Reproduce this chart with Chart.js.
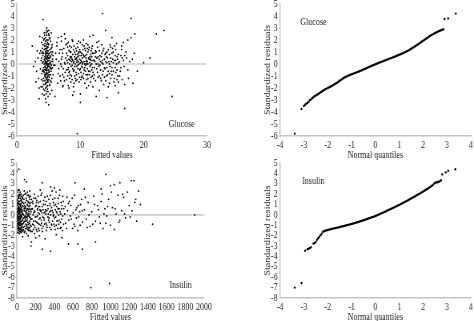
<!DOCTYPE html>
<html lang="en">
<head>
<meta charset="UTF-8">
<title>Residual diagnostics</title>
<script src="https://cdn.jsdelivr.net/npm/chart.js"></script>
<style>
  html, body { margin: 0; padding: 0; background: #fff; overflow: hidden; }
  .panel { position: absolute; transform-origin: 0 0; }
</style>
</head>
<body>
<canvas id="gluFit" class="panel"></canvas>
<canvas id="gluQQ" class="panel"></canvas>
<canvas id="insFit" class="panel"></canvas>
<canvas id="insQQ" class="panel"></canvas>
<script>
// ---- data ----

// glucose: [fitted value, standardized residual]
const glucoseResid = [
  [4.6,0.2],[4.8,-0.3],[4.5,0.8],[4.9,1.1],[4.4,-0.9],[5.0,0.5],[4.7,-1.2],[4.3,0.0],[5.1,-0.6],[4.6,1.5],
  [4.8,0.9],[4.5,-0.5],[4.9,-1.0],[4.4,0.6],[5.2,0.1],[4.7,0.4],[4.6,-0.1],[4.8,1.8],[4.5,2.2],[4.9,-1.5],
  [4.3,1.2],[5.0,-0.2],[4.7,-0.7],[4.4,-1.4],[5.1,0.9],[4.6,2.6],[4.8,-1.8],[4.5,1.0],[4.9,0.3],[4.2,-0.3],
  [5.3,-0.9],[4.7,1.3],[4.6,-1.6],[4.8,0.0],[4.5,-1.1],[5.0,1.6],[4.4,0.3],[4.9,2.0],[4.7,-0.4],[5.2,1.2],
  [4.3,-0.7],[4.6,0.7],[4.8,-0.8],[4.5,0.5],[5.0,-1.3],[4.7,2.4],[4.4,1.7],[4.9,-0.1],[5.1,0.3],[4.6,-0.9],
  [4.2,0.9],[4.8,1.4],[4.5,-2.0],[5.3,0.6],[4.7,0.1],[4.4,-0.2],[4.9,0.7],[5.0,-0.7],[4.6,1.1],[4.8,-1.1],
  [4.3,0.4],[5.2,-0.4],[4.5,1.9],[4.7,-1.9],[4.9,1.4],[4.4,-1.0],[5.1,-1.1],[4.6,0.0],[4.8,0.6],[4.5,-0.3],
  [5.4,0.2],[4.1,-0.5],[4.7,2.8],[4.9,-2.3],[4.3,2.1],[5.0,2.5],[4.6,-2.5],[4.8,2.7],[4.2,-1.7],[5.5,-1.2],
  [5.6,1.0],[5.4,-0.6],[5.5,0.8],[4.0,1.3],[3.9,-0.8],[4.1,0.7],[4.0,-1.9],[5.6,-0.3],[5.3,1.9],[5.2,-1.7],
  [4.4,-2.2],[4.9,-2.7],[4.5,-2.9],[5.0,-3.4],[4.6,-3.2],[3.5,-2.9],[4.1,3.7],[4.3,2.6],[4.8,-2.1],[5.1,2.2],
  [4.0,0.1],[3.8,0.3],[3.7,-0.4],[3.6,0.9],[3.9,1.8],[3.4,-1.2],[3.3,0.5],[3.1,-0.6],[2.9,0.2],[2.6,-0.2],
  [2.4,1.5],[3.0,-1.5],[3.2,1.1],[3.5,-2.0],[3.6,2.3],[4.2,2.0],[5.4,2.6],[5.5,-2.2],[4.0,-2.5],[4.65,0.45],
  [4.75,-0.55],[4.55,1.25],[4.85,-1.35],[4.45,0.15],[4.95,0.85],[4.65,-0.85],[4.75,1.65],[4.55,-1.55],[4.85,0.25],[4.35,-0.45],
  [3.9,0.5],[4.0,-0.6],[4.1,1.6],[4.2,-1.2],[5.3,0.0],[5.4,1.3],[5.5,-0.4],[5.6,0.4],[5.7,-0.9],[5.2,2.1],
  [4.1,-1.4],[4.0,2.2],[3.95,0.9],[4.15,0.2],[4.25,-0.6],[4.35,1.5],[4.45,-1.7],[4.55,0.9],[4.65,-1.3],[4.75,0.6],
  [4.85,-0.2],[4.95,1.7],[5.05,-0.9],[5.15,0.5],[5.25,-1.4],[5.35,1.0],[5.45,-0.1],[5.55,1.6],[5.65,0.2],[3.85,-1.3],
  [4.05,1.0],[4.2,-2.1],[4.35,2.4],[4.5,0.1],[4.6,-0.5],[4.7,0.9],[4.8,-1.5],[4.9,0.5],[5.0,0.0],[5.1,-1.8],
  [5.2,0.7],[5.3,-0.3],[5.4,-1.5],[5.5,1.4],[4.45,1.3],[4.55,-0.8],[4.65,2.0],[4.75,-2.3],[4.85,1.1],[4.95,-0.5],
  [5.05,2.4],[5.15,-0.2],[3.8,-1.9],[5.7,0.7],[3.75,1.1],[5.8,-0.1],[4.3,-2.6],[5.2,-2.5],[4.7,3.0],[5.0,2.8],
  [6.2,0.4],[6.5,-0.8],[6.8,1.2],[7.0,-0.2],[7.2,0.9],[7.4,-1.1],[7.5,0.1],[7.7,1.6],[7.8,-0.5],[8.0,0.7],
  [8.1,-0.3],[8.2,1.1],[8.3,0.0],[8.4,-0.9],[8.5,0.5],[8.6,1.4],[8.7,-0.1],[8.8,0.8],[8.9,-0.6],[9.0,0.2],
  [9.1,1.0],[9.2,-1.2],[9.3,0.4],[9.4,-0.2],[9.5,1.7],[9.6,0.6],[9.7,-0.8],[9.8,0.0],[9.9,1.2],[10.0,-0.4],
  [10.1,0.3],[10.2,0.9],[10.3,-1.0],[10.4,0.1],[10.5,0.7],[10.6,-0.5],[10.7,1.3],[10.8,-0.1],[10.9,0.5],[11.0,-1.3],
  [11.1,0.2],[11.2,1.0],[11.3,-0.6],[11.4,0.4],[11.5,-0.2],[11.6,0.8],[11.7,-1.1],[11.8,0.0],[11.9,1.5],[12.0,-0.7],
  [12.2,0.3],[12.4,1.1],[12.6,-0.4],[12.8,0.6],[13.0,-1.0],[13.2,0.2],[13.4,0.9],[13.6,-0.6],[13.8,0.4],[14.0,-1.4],
  [14.2,0.1],[14.4,1.2],[14.6,-0.8],[14.8,0.5],[15.0,-0.3],[15.2,1.0],[15.4,-1.2],[15.6,0.3],[15.8,-0.5],[16.0,0.8],
  [6.0,-0.1],[6.3,1.5],[6.6,0.2],[6.9,-1.4],[7.1,0.6],[7.3,-0.4],[7.6,2.1],[7.9,0.3],[8.0,-1.0],[8.1,1.8],
  [8.2,0.4],[8.3,-0.6],[8.4,1.0],[8.5,-0.2],[8.6,0.2],[8.7,-1.3],[8.8,1.9],[8.9,0.1],[9.0,-0.5],[9.1,0.6],
  [9.2,0.0],[9.3,1.3],[9.4,-0.9],[9.5,0.3],[9.6,-0.1],[9.7,0.9],[9.8,-1.5],[9.9,0.4],[10.0,1.0],[10.1,-0.7],
  [10.2,0.2],[10.3,1.6],[10.4,-0.3],[10.5,-1.2],[10.6,0.6],[10.7,0.0],[10.8,1.1],[10.9,-0.9],[11.0,0.3],[11.1,-0.4],
  [11.2,1.6],[11.3,0.5],[11.4,-0.9],[11.5,0.1],[11.6,-1.5],[11.7,1.1],[11.8,0.6],[11.9,-0.3],[12.1,-1.2],[12.3,0.9],
  [12.5,0.0],[12.7,1.4],[12.9,-0.2],[13.1,0.7],[13.3,-1.4],[13.5,0.3],[13.7,1.3],[13.9,-0.4],[14.1,0.6],[14.3,-0.9],
  [14.5,0.2],[14.7,1.6],[14.9,-0.6],[15.1,0.4],[15.3,-1.5],[15.5,0.7],[15.7,0.0],[15.9,-1.0],[16.2,0.2],[16.5,1.2],
  [6.4,-1.6],[6.7,0.9],[7.0,1.9],[7.3,-1.8],[7.6,-0.7],[7.8,0.9],[8.0,0.1],[8.1,-1.8],[8.3,1.5],[8.4,0.3],
  [8.5,-1.5],[8.6,0.6],[8.7,2.0],[8.8,-0.4],[8.9,1.2],[9.0,-1.6],[9.1,-0.2],[9.2,0.8],[9.3,-0.7],[9.4,0.5],
  [9.5,-1.3],[9.6,1.4],[9.7,0.2],[9.8,0.7],[9.9,-0.5],[10.0,1.8],[10.1,-1.3],[10.2,-0.2],[10.3,0.5],[10.4,1.2],
  [10.5,-0.8],[10.6,0.2],[10.7,-1.6],[10.8,0.7],[10.9,1.7],[11.0,0.8],[11.1,-0.9],[11.2,0.0],[11.3,1.2],[11.5,-0.6],
  [11.6,0.4],[11.8,-0.5],[11.9,0.9],[12.0,0.3],[12.2,-0.9],[12.4,0.6],[12.6,1.8],[12.8,-1.1],[13.0,0.4],[13.2,-0.5],
  [13.4,1.6],[13.6,0.0],[13.8,-1.1],[14.0,0.9],[14.2,-0.3],[14.4,-1.9],[14.6,0.8],[14.8,1.4],[15.0,-0.9],[15.2,0.1],
  [15.4,1.5],[15.6,-0.7],[15.8,0.6],[16.0,-1.5],[16.3,-0.6],[16.6,0.5],[16.9,-0.2],[17.2,1.0],[17.5,-0.5],[17.8,0.2],
  [7.0,0.4],[7.2,-0.9],[7.4,1.3],[7.6,0.0],[7.8,-1.3],[8.0,1.4],[8.2,-0.7],[8.4,0.6],[8.6,-1.0],[8.8,0.3],
  [9.0,1.5],[9.2,0.4],[9.4,1.1],[9.6,-0.4],[9.8,1.0],[10.0,0.1],[10.2,-1.1],[10.4,0.8],[10.6,1.5],[10.8,-0.6],
  [11.0,0.0],[11.2,-1.2],[11.4,1.4],[11.6,-0.1],[11.8,1.3],[12.0,0.9],[12.2,-0.3],[12.4,-1.4],[12.6,0.5],[12.8,0.0],
  [13.0,1.1],[13.2,-1.2],[13.4,0.1],[13.6,1.1],[13.8,-0.3],[14.0,0.2],[14.2,1.0],[14.4,-0.6],[14.6,0.0],[14.8,-1.2],
  [15.0,0.9],[15.2,-0.6],[15.4,0.3],[15.6,1.2],[15.8,-1.3],[16.0,0.1],[16.2,-1.0],[16.4,0.7],[16.6,-1.3],[16.8,0.3],
  [7.1,1.2],[7.5,-1.4],[7.9,1.7],[8.3,-1.2],[8.7,0.4],[9.1,-1.0],[9.5,0.8],[9.9,-1.1],[10.3,0.0],[10.7,-0.3],
  [11.1,1.3],[11.5,0.6],[11.9,-1.0],[12.3,0.2],[12.7,-0.7],[13.1,-0.1],[13.5,-0.9],[13.9,0.8],[14.3,0.5],[14.7,-0.2],
  [15.1,1.3],[15.5,-0.3],[15.9,0.4],[6.1,0.9],[6.6,-0.4],[6.8,-1.0],[7.7,0.5],[8.5,1.0],[9.3,-1.4],[10.1,0.7],
  [10.9,0.2],[11.7,0.3],[12.5,1.0],[13.3,0.6],[14.1,-1.0],[14.9,0.2],[15.7,1.7],[16.4,-0.3],[17.0,0.7],[17.6,-1.2],
  [18.2,0.4],[8.9,-1.9],[9.7,1.9],[10.5,2.0],[11.3,-1.8],[12.9,1.9],[13.7,-1.7],[6.9,0.0],[8.05,-0.45],[9.45,0.15],
  [6.5,2.2],[7.5,2.5],[8.2,-2.0],[9.0,-2.3],[9.5,-5.8],[10.0,-3.2],[10.0,-2.5],[11.0,-2.0],[11.5,2.3],[12.0,2.4],
  [12.5,-2.7],[13.5,4.2],[14.0,2.8],[14.2,-2.8],[15.0,2.2],[15.5,-1.8],[16.0,-2.4],[16.5,1.5],[17.0,-3.7],[17.0,-1.7],
  [17.5,2.0],[18.0,3.8],[18.0,2.2],[18.3,-1.6],[18.6,2.5],[18.5,0.9],[19.0,-0.6],[20.0,0.1],[21.0,0.5],[22.0,2.5],
  [23.2,2.8],[24.5,-2.7],[6.0,-2.7],[7.2,-1.9],[8.8,-2.6],[12.0,-1.9],[13.0,-2.2],[14.6,-1.6],[16.8,1.8],[17.3,0.5],
  [6.3,1.8],[7.0,2.3]
];

// insulin: [fitted value, standardized residual]
const insulinResid = [
  [5,0.2],[10,-0.5],[15,1.0],[20,-1.2],[25,0.6],[30,-0.1],[35,1.6],[40,-0.8],[45,0.3],[50,-1.5],
  [8,2.2],[12,-1.7],[18,0.8],[22,-0.3],[28,1.3],[32,-1.0],[38,0.0],[42,2.0],[48,-0.6],[55,0.9],
  [3,-0.9],[7,1.4],[14,0.4],[19,-1.4],[24,2.4],[29,-0.7],[33,0.5],[37,-1.6],[43,1.1],[52,-0.2],
  [6,-1.3],[11,0.7],[16,-0.2],[21,1.8],[26,-1.0],[31,0.2],[36,-0.4],[41,1.4],[46,-1.2],[58,0.4],
  [4,1.1],[9,-0.1],[13,-1.0],[17,1.6],[23,0.1],[27,-1.6],[34,0.9],[39,-0.3],[44,-1.4],[60,1.2],
  [2,-0.4],[6,0.5],[11,2.4],[15,-0.7],[20,0.3],[25,-1.8],[30,1.9],[35,-0.6],[40,0.6],[65,-0.8],
  [70,0.0],[75,1.5],[80,-1.1],[85,0.7],[90,-0.4],[95,2.1],[100,-1.3],[105,0.2],[110,1.0],[115,-0.7],
  [120,0.5],[125,-1.5],[130,1.7],[135,-0.2],[140,0.9],[145,-1.0],[150,0.3],[68,1.9],[72,-1.5],[78,0.4],
  [82,-0.2],[88,1.2],[92,-0.9],[98,0.1],[102,1.4],[108,-0.5],[112,2.2],[118,-1.2],[122,0.0],[128,0.8],
  [132,-0.8],[138,1.5],[142,-0.3],[148,-1.6],[62,-0.5],[66,0.8],[74,-0.3],[86,-1.6],[96,0.6],[106,-1.0],
  [116,0.9],[126,-0.1],[136,2.3],[146,0.5],[1,0.9],[3,-1.7],[8,-0.8],[12,1.9],[18,-0.4],[23,-0.9],
  [28,0.4],[33,2.2],[38,-1.3],[47,0.7],[53,-1.1],[57,1.7],[63,-1.4],[77,2.3],[83,-0.6],[93,0.3],
  [103,-1.8],[113,-0.1],[123,1.2],[133,-1.2],[2,0.0],[5,-0.6],[9,1.2],[14,-1.2],[19,0.5],[24,-0.4],
  [29,1.0],[34,-1.3],[39,0.8],[49,1.5],[54,0.1],[59,-0.9],[4,-0.2],[10,0.3],[16,1.3],[22,-0.8],
  [1,1.5],[3,0.3],[5,-1.1],[7,-0.3],[9,0.6],[11,-1.5],[13,1.7],[15,0.1],[17,-0.9],[19,1.1],
  [21,-0.5],[23,0.7],[25,-1.3],[27,2.0],[29,0.2],[31,-1.4],[33,-0.2],[35,0.4],[37,1.0],[39,-1.0],
  [41,0.0],[43,-1.7],[45,1.8],[47,-0.1],[49,-0.9],[51,0.5],[53,1.3],[55,-1.6],[57,0.2],[59,-0.4],
  [61,1.6],[64,0.1],[67,-1.2],[71,1.1],[73,-0.7],[76,0.6],[79,-1.7],[81,0.9],[84,2.0],[87,-0.1],
  [89,-1.3],[91,0.8],[94,-0.6],[97,1.6],[99,-0.2],[101,0.4],[104,-1.1],[107,1.9],[109,-0.3],[111,0.6],
  [114,-1.4],[117,1.3],[119,0.1],[121,-0.9],[124,1.9],[127,0.3],[129,-1.3],[131,0.6],[134,1.1],[137,-0.6],
  [139,0.1],[141,-1.5],[143,1.8],[147,-0.4],[149,1.2],[152,-1.1],[157,0.6],[162,-1.6],[167,1.3],[172,0.0],
  [177,-0.6],[182,1.6],[187,0.4],[192,-1.2],[197,0.8],[202,-0.2],[207,-1.4],[212,1.4],[217,0.5],[222,-0.8],
  [227,0.2],[232,1.2],[237,-1.5],[242,0.8],[247,-0.3],[252,0.4],[257,1.9],[262,-0.8],[267,0.2],[272,-1.6],
  [282,1.0],[292,-0.5],[302,0.3],[312,1.3],[322,-1.2],[332,0.6],[342,-0.3],[352,1.1],[362,0.4],[372,-1.0],
  [382,1.5],[392,0.0],[402,-1.1],[412,1.0],[422,0.3],[432,-0.6],[442,1.6],[452,0.6],[462,-1.3],[472,1.2],
  [160,-0.4],[170,1.1],[180,-1.0],[190,0.3],[200,1.6],[210,-0.7],[220,0.6],[230,-1.3],[240,0.1],[250,1.3],
  [260,-0.5],[270,0.8],[280,-1.1],[290,0.2],[300,1.0],[310,-0.8],[320,0.4],[330,-0.2],[340,1.5],[350,-1.2],
  [360,0.0],[370,0.7],[380,-0.6],[390,1.2],[400,-0.3],[410,0.5],[420,-1.0],[430,0.2],[440,1.1],[450,-0.5],
  [460,0.3],[470,-1.2],[480,0.9],[490,-0.1],[500,0.6],[520,-0.8],[540,0.4],[560,1.3],[580,-0.4],[600,0.2],
  [620,-1.1],[640,0.7],[660,-0.2],[680,1.0],[700,-0.7],
  [165,0.6],[175,-1.4],[185,2.0],[195,-0.2],[205,0.9],[215,-1.6],[225,1.8],[235,-0.4],[245,0.5],[255,-1.0],
  [265,2.1],[275,-0.2],[285,1.4],[295,-0.9],[305,0.5],[315,-1.5],[325,1.8],[335,0.1],[345,-0.7],[355,0.9],
  [365,-1.4],[375,2.3],[385,0.2],[395,-0.9],[405,1.6],[415,-0.2],[425,0.8],[435,-1.3],[445,0.0],[455,1.9],
  [465,-0.7],[475,0.6],[485,-1.5],[495,1.3],[510,0.1],[530,-1.3],[550,1.1],[570,-0.1],[590,1.6],[610,-0.9],
  [630,0.5],[650,-1.5],[670,0.3],[690,1.5],
  [155,1.5],[168,-0.9],[178,0.2],[188,-1.8],[198,-0.6],[208,1.2],[218,-0.1],[228,0.8],[238,-0.9],[248,2.4],
  [258,0.4],[268,-1.3],[278,0.5],[288,-0.3],[298,1.7],[308,0.1],[318,-1.0],[328,0.9],[338,-0.5],[348,0.3],
  [358,1.9],[368,-0.9],[378,0.4],[388,-0.1],[398,0.9],[408,-1.4],[418,2.2],[428,-0.6],[438,0.6],[448,-0.9],
  [458,2.4],[468,0.1],[478,-0.4],[488,1.8],[498,-0.9],[515,0.8],[535,1.7],[555,-0.5],[575,0.9],[595,-1.3],
  [615,1.9],[635,-0.3],[655,0.9],[675,-1.0],[695,0.4],
  [200,-2.2],[150,-3.0],[155,-2.6],[270,-3.3],[300,-2.3],[360,-3.5],[480,-2.2],[550,-2.8],[650,-2.8],[700,-3.3],
  [840,-2.6],[790,-7.0],[990,-6.6],[0,4.2],[20,4.4],[80,3.4],[100,3.2],[270,3.1],[620,3.1],[950,3.9],
  [1100,3.1],[1220,3.3],[1250,3.3],[1900,0.0],[1450,-0.9],[360,2.7],[400,2.6],[720,2.5],[900,2.5],[1000,2.8],
  [1040,2.9],[1180,2.2],[1300,2.3],[1270,1.5],[60,-2.1],[120,-2.0],[240,-2.0],[420,-1.9],
  [720,0.5],[740,-0.4],[760,1.2],[780,-1.1],[800,0.3],[820,1.8],[840,-0.6],[860,0.9],[880,-0.2],[900,1.3],
  [920,-1.3],[940,0.6],[960,-0.1],[980,1.5],[1000,-1.0],[1020,0.7],[1040,-1.4],[1060,0.1],[1080,1.9],[1100,-0.5],
  [1120,0.4],[1140,1.7],[1160,-0.3],[1200,0.9],[1230,0.4],[1280,-0.6],[1320,1.0],[730,1.7],[750,-1.2],[770,0.0],
  [810,-0.9],[830,1.0],[870,0.5],[890,-0.8],[910,2.0],[930,0.1],[950,-0.8],[970,0.8],[1010,2.2],[1050,0.6],
  [1090,-0.7],[1130,2.0],[1150,0.1],[1210,-0.2],[1260,1.2]
];

// normal Q-Q: [normal quantile, standardized residual]
const glucoseQQ = [
  [-3.38,-5.8],[-3.1,-3.75],[-3.0,-3.5],[-2.95,-3.4],[-2.9,-3.3],[-2.85,-3.25],[-2.8,-3.15],[-2.75,-3.0],
  [-2.7,-2.95],[-2.6,-2.75],[-2.5,-2.62],[-2.4,-2.5],[-2.3,-2.36],[-2.2,-2.22],[-2.1,-2.1],[-2.0,-2.0],
  [-1.9,-1.9],[-1.8,-1.79],[-1.7,-1.67],[-1.6,-1.55],[-1.5,-1.4],[-1.4,-1.26],[-1.3,-1.13],[-1.2,-1.03],
  [-1.1,-0.94],[-1.0,-0.86],[-0.9,-0.78],[-0.8,-0.7],[-0.7,-0.62],[-0.6,-0.54],[-0.5,-0.46],[-0.4,-0.37],
  [-0.3,-0.28],[-0.2,-0.19],[-0.1,-0.1],[0,-0.02],[0.1,0.06],[0.2,0.14],[0.3,0.22],[0.4,0.3],
  [0.5,0.38],[0.6,0.45],[0.7,0.53],[0.8,0.61],[0.9,0.69],[1.0,0.77],[1.1,0.85],[1.2,0.94],
  [1.3,1.04],[1.4,1.15],[1.5,1.27],[1.6,1.4],[1.7,1.53],[1.8,1.66],[1.9,1.8],[2.0,1.94],
  [2.1,2.08],[2.2,2.22],[2.3,2.35],[2.4,2.47],[2.5,2.58],[2.6,2.68],[2.7,2.77],[2.8,2.85],
  [2.85,2.9],[2.9,3.75],[3.05,3.8],[3.37,4.2],
  [-2.65,-2.85],[-2.55,-2.68],[-2.45,-2.56],[-2.35,-2.43],[-2.25,-2.29],[-2.15,-2.16],[-2.05,-2.05],[-1.95,-1.95],
  [-1.85,-1.85],[-1.75,-1.73],[-1.65,-1.61],[-1.55,-1.48],[-1.45,-1.33],[-1.35,-1.19],[-1.25,-1.08],[-1.15,-0.98],
  [-1.05,-0.9],[-0.95,-0.82],[-0.85,-0.74],[-0.75,-0.66],[-0.65,-0.58],[-0.55,-0.5],[-0.45,-0.41],[-0.35,-0.32],
  [-0.25,-0.23],[-0.15,-0.14],[-0.05,-0.06],[0.05,0.02],[0.15,0.1],[0.25,0.18],[0.35,0.26],[0.45,0.34],
  [0.55,0.41],[0.65,0.49],[0.75,0.57],[0.85,0.65],[0.95,0.73],[1.05,0.81],[1.15,0.89],[1.25,0.99],
  [1.35,1.09],[1.45,1.21],[1.55,1.33],[1.65,1.46],[1.75,1.6],[1.85,1.73],[1.95,1.87],[2.05,2.01],
  [2.15,2.15],[2.25,2.29],[2.35,2.41],[2.45,2.52],[2.55,2.63],[2.65,2.73],[2.75,2.81]
];
const insulinQQ = [
  [-3.38,-7.0],[-3.1,-6.55],[-2.95,-3.45],[-2.85,-3.3],[-2.8,-3.25],[-2.75,-3.2],[-2.7,-3.1],[-2.6,-2.75],
  [-2.55,-2.72],[-2.5,-2.6],[-2.45,-2.4],[-2.4,-2.25],[-2.35,-2.1],[-2.3,-1.95],[-2.25,-1.8],[-2.2,-1.62],
  [-2.1,-1.52],[-2.0,-1.45],[-1.9,-1.39],[-1.8,-1.33],[-1.7,-1.28],[-1.6,-1.22],[-1.5,-1.17],[-1.4,-1.11],
  [-1.3,-1.05],[-1.2,-0.99],[-1.1,-0.93],[-1.0,-0.87],[-0.9,-0.8],[-0.8,-0.73],[-0.7,-0.66],[-0.6,-0.58],
  [-0.5,-0.51],[-0.4,-0.43],[-0.3,-0.35],[-0.2,-0.27],[-0.1,-0.19],[0,-0.1],[0.1,0.0],[0.2,0.1],
  [0.3,0.2],[0.4,0.31],[0.5,0.42],[0.6,0.53],[0.7,0.64],[0.8,0.75],[0.9,0.86],[1.0,0.97],
  [1.1,1.09],[1.2,1.21],[1.3,1.33],[1.4,1.46],[1.5,1.59],[1.6,1.72],[1.7,1.85],[1.8,1.99],
  [1.9,2.12],[2.0,2.26],[2.1,2.4],[2.2,2.55],[2.3,2.7],[2.4,2.86],[2.45,3.0],[2.5,3.1],
  [2.6,3.15],[2.7,3.25],[2.75,3.35],[2.8,3.9],[2.95,4.1],[3.05,4.25],[3.35,4.4],
  [-2.15,-1.57],[-2.05,-1.48],[-1.95,-1.42],[-1.85,-1.36],[-1.75,-1.3],[-1.65,-1.25],[-1.55,-1.2],[-1.45,-1.14],
  [-1.35,-1.08],[-1.25,-1.02],[-1.15,-0.96],[-1.05,-0.9],[-0.95,-0.84],[-0.85,-0.77],[-0.75,-0.7],[-0.65,-0.62],
  [-0.55,-0.55],[-0.45,-0.47],[-0.35,-0.39],[-0.25,-0.31],[-0.15,-0.23],[-0.05,-0.15],[0.05,-0.05],[0.15,0.05],
  [0.25,0.15],[0.35,0.25],[0.45,0.36],[0.55,0.47],[0.65,0.58],[0.75,0.69],[0.85,0.8],[0.95,0.91],
  [1.05,1.03],[1.15,1.15],[1.25,1.27],[1.35,1.39],[1.45,1.52],[1.55,1.65],[1.65,1.78],[1.75,1.92],
  [1.85,2.05],[1.95,2.19],[2.05,2.33],[2.15,2.47],[2.25,2.62],[2.35,2.78],[2.55,3.12],[2.65,3.2]
];

// zero reference lines in the residual-vs-fitted panels
const glucoseZero = [[0,0],[30,0]];
const insulinZero = [[0,0],[2000,0]];

// ---- drawing ----
Chart.defaults.font.family = '"Liberation Serif", "Times New Roman", serif';
Chart.defaults.font.size = 10;
Chart.defaults.color = '#222';

// the original lettering is narrow, so each canvas is drawn wider and squeezed back
const SQUEEZE = 0.8;
const Y_AXIS_W = 21;

const toXY = arr => arr.map(p => ({ x: p[0], y: p[1] }));

// writes the panel name at a spot given in data units
const panelLabel = {
    id: 'panelLabel',
    afterDatasetsDraw(chart, args, o) {
        const { ctx, scales } = chart;
        ctx.save();
        ctx.font = '10px "Liberation Serif", serif';
        ctx.fillStyle = '#222';
        ctx.textAlign = 'center';
        ctx.textBaseline = 'middle';
        ctx.fillText(o.text, scales.x.getPixelForValue(o.at[0]), scales.y.getPixelForValue(o.at[1]));
        ctx.restore();
    }
};

function makePanel(id, box, area, cfg) {
    const canvas = document.getElementById(id);
    const w = Math.round(box.w / SQUEEZE);
    const s = box.w / w;
    canvas.width = w;
    canvas.height = box.h;
    canvas.style.width = w + 'px';
    canvas.style.height = box.h + 'px';
    canvas.style.left = box.left + 'px';
    canvas.style.top = box.top + 'px';
    canvas.style.transform = `scaleX(${s})`;

    const xH = box.top + box.h - area.bottom;
    const datasets = [{
        data: toXY(cfg.points),
        backgroundColor: '#000',
        borderWidth: 0,
        pointRadius: cfg.radius,
        order: 1
    }];
    if (cfg.zero) {
        datasets.push({
            type: 'line',
            data: toXY(cfg.zero),
            borderColor: '#cfcfcf',
            borderWidth: 1.6,
            pointRadius: 0,
            order: 2
        });
    }

    const axisBorder = { display: true, color: '#c4c4c4', width: 1.5 };
    const noGrid = { display: false, drawTicks: false, tickLength: 0 };
    new Chart(canvas, {
        type: 'scatter',
        data: { datasets },
        plugins: [panelLabel],
        options: {
            responsive: false,
            animation: false,
            events: [],
            layout: {
                padding: {
                    left: (area.left - box.left) / s - Y_AXIS_W,
                    right: (box.left + box.w - area.right) / s,
                    top: area.top - box.top,
                    bottom: 0
                }
            },
            plugins: {
                legend: { display: false },
                tooltip: { enabled: false },
                panelLabel: { text: cfg.label, at: cfg.labelAt }
            },
            scales: {
                x: {
                    type: 'linear',
                    min: cfg.xMin, max: cfg.xMax,
                    grid: noGrid,
                    border: axisBorder,
                    ticks: {
                        stepSize: cfg.xStep, autoSkip: false, maxRotation: 0, minRotation: 0, padding: 3,
                        callback: v => String(v)
                    },
                    title: { display: true, text: cfg.xTitle, padding: { top: 0, bottom: 0 } },
                    afterFit: sc => { sc.height = xH; sc.paddingLeft = 0; sc.paddingRight = 0; }
                },
                y: {
                    min: cfg.yMin, max: 5,
                    grid: noGrid,
                    border: axisBorder,
                    ticks: { stepSize: 1, autoSkip: false, padding: 3, callback: v => String(v) },
                    title: { display: true, text: 'Standardized residuals', padding: { top: 0, bottom: 0 } },
                    afterFit: sc => { sc.width = Y_AXIS_W; sc.paddingTop = 0; sc.paddingBottom = 0; }
                }
            }
        }
    });
}

// top row
makePanel('gluFit', { left: 0, top: 0, w: 237, h: 161 }, { left: 17, right: 207, top: 2, bottom: 136 }, {
    points: glucoseResid, zero: glucoseZero, radius: 0.95,
    xMin: 0, xMax: 30, xStep: 10, yMin: -6, xTitle: 'Fitted values',
    label: 'Glucose', labelAt: [26, -5]
});
makePanel('gluQQ', { left: 237, top: 0, w: 237, h: 161 }, { left: 280, right: 472, top: 2, bottom: 136 }, {
    points: glucoseQQ, radius: 1.2,
    xMin: -4, xMax: 4, xStep: 1, yMin: -6, xTitle: 'Normal quantiles',
    label: 'Glucose', labelAt: [-2.6, 3.5]
});

// bottom row
makePanel('insFit', { left: 0, top: 155, w: 237, h: 168 }, { left: 17, right: 204, top: 163, bottom: 298 }, {
    points: insulinResid, zero: insulinZero, radius: 0.95,
    xMin: 0, xMax: 2000, xStep: 200, yMin: -8, xTitle: 'Fitted values',
    label: 'Insulin', labelAt: [1750, -6.8]
});
makePanel('insQQ', { left: 237, top: 155, w: 237, h: 168 }, { left: 280, right: 472, top: 163, bottom: 298 }, {
    points: insulinQQ, radius: 1.2,
    xMin: -4, xMax: 4, xStep: 1, yMin: -8, xTitle: 'Normal quantiles',
    label: 'Insulin', labelAt: [-2.6, 3.2]
});
</script>
</body>
</html>
